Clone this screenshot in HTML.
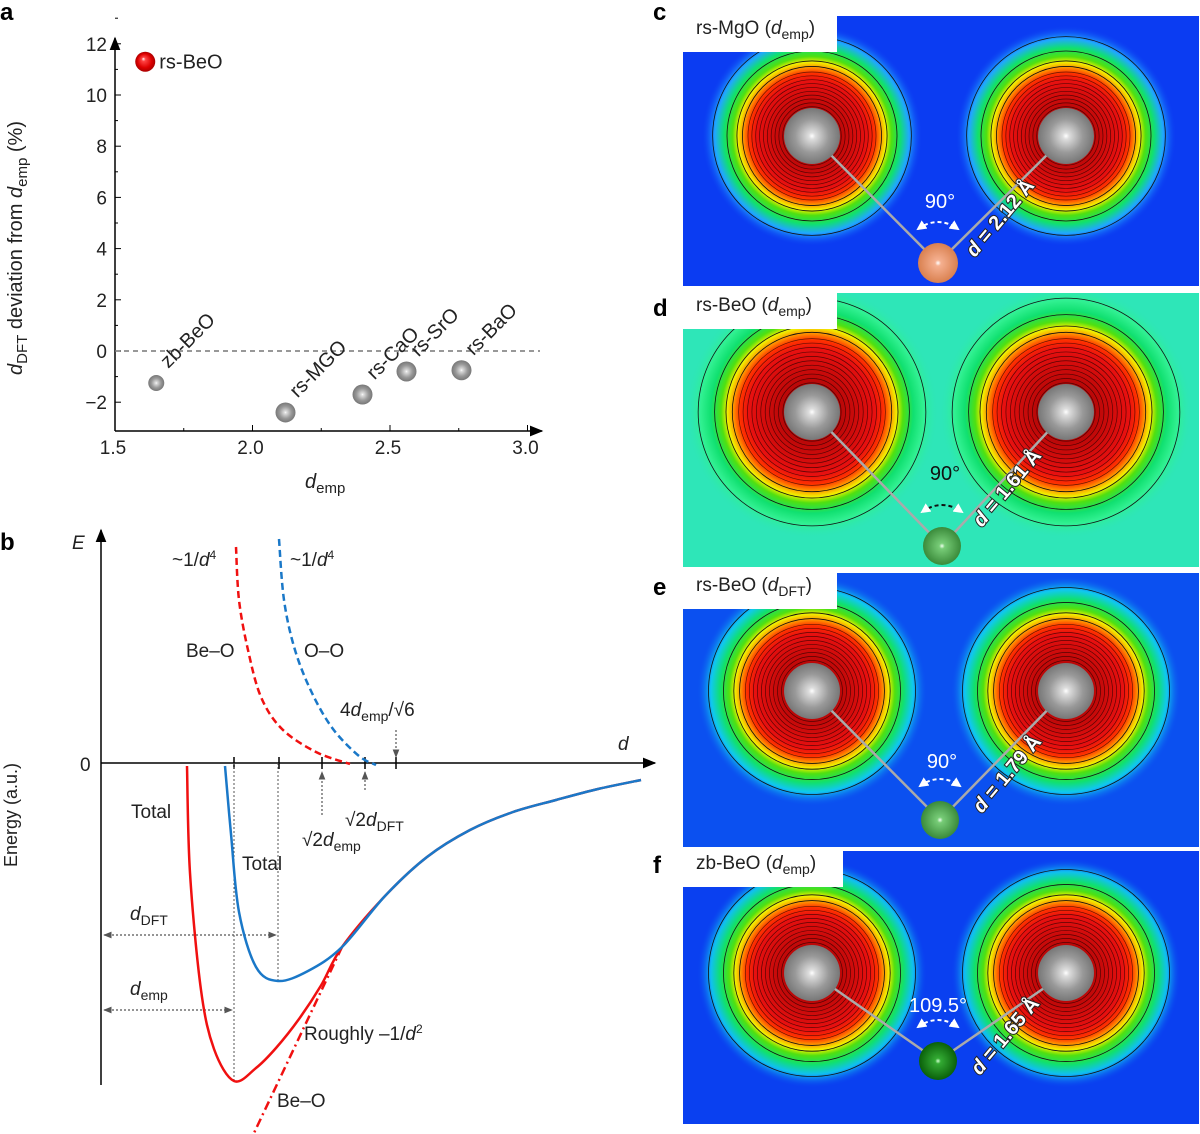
<!DOCTYPE html>
<html><head><meta charset="utf-8">
<style>
html,body{margin:0;padding:0;background:#fff;}
svg{display:block;font-family:"Liberation Sans",sans-serif;}
</style></head>
<body>
<svg id="fig" width="1200" height="1134" viewBox="0 0 1200 1134" xmlns="http://www.w3.org/2000/svg">
<defs>
  <marker id="arr" viewBox="0 0 10 10" refX="9" refY="5" markerWidth="9" markerHeight="9" orient="auto-start-reverse"><path d="M0,1 L10,5 L0,9 Z" fill="#000"/></marker>
  <marker id="garr" viewBox="0 0 10 10" refX="9" refY="5" markerWidth="7" markerHeight="7" orient="auto-start-reverse"><path d="M0,1 L10,5 L0,9 Z" fill="#555"/></marker>
  <marker id="warr" viewBox="0 0 10 10" refX="8" refY="5" markerWidth="5" markerHeight="5" orient="auto-start-reverse"><path d="M0,0 L10,5 L0,10 Z" fill="#fff"/></marker>
  <radialGradient id="gray-ball" cx="0.5" cy="0.5" r="0.5" fx="0.5" fy="0.5"><stop offset="0" stop-color="#fff"/><stop offset="0.12" stop-color="#ddd"/><stop offset="0.6" stop-color="#999"/><stop offset="1" stop-color="#777"/></radialGradient>
  <radialGradient id="red-ball" cx="0.5" cy="0.5" r="0.5" fx="0.4" fy="0.35"><stop offset="0" stop-color="#fff"/><stop offset="0.2" stop-color="#f44"/><stop offset="0.7" stop-color="#d00"/><stop offset="1" stop-color="#a00"/></radialGradient>
  <radialGradient id="orange-ball" cx="0.5" cy="0.5" r="0.5"><stop offset="0" stop-color="#fff"/><stop offset="0.15" stop-color="#f5b090"/><stop offset="1" stop-color="#d9804f"/></radialGradient>
  <radialGradient id="green-ball" cx="0.5" cy="0.5" r="0.5"><stop offset="0" stop-color="#efe"/><stop offset="0.15" stop-color="#7c7"/><stop offset="1" stop-color="#3a8a3a"/></radialGradient>
  <radialGradient id="dgreen-ball" cx="0.5" cy="0.5" r="0.5"><stop offset="0" stop-color="#cfc"/><stop offset="0.15" stop-color="#3a3"/><stop offset="1" stop-color="#0a600a"/></radialGradient>
</defs>
<g id="panelA"></g>
<g id="panelB"></g>
<g id="panelsR"></g>
</svg>
<script>
const NS="http://www.w3.org/2000/svg";
function mk(parent,tag,attrs,text){const e=document.createElementNS(NS,tag);for(const k in attrs)e.setAttribute(k,attrs[k]);if(text!==undefined)e.innerHTML=text;parent.appendChild(e);return e;}

/* ---------- Panel a data ---------- */
const aNames=["rs-BeO","zb-BeO","rs-MGO","rs-CaO","rs-SrO","rs-BaO"];
const aDemp=[1.61,1.65,2.12,2.40,2.56,2.76];
const aDev=[11.3,-1.25,-2.4,-1.7,-0.8,-0.75];
const aXTicks=[1.5,2.0,2.5,3.0];
const aYTicks=[-2,0,2,4,6,8,10,12];

const A=document.getElementById('panelA');
const ax=v=>115+(v-1.5)*275;
const ay=v=>351-v*25.6;
let t=mk(A,'text',{x:0,y:20,'font-size':24,'font-weight':'bold'},'a');

let l=mk(A,'line',{x1:115,y1:431,x2:115,y2:38,stroke:'#000','stroke-width':1.5,'marker-end':'url(#arr)'});

l=mk(A,'line',{x1:115,y1:431,x2:542,y2:431,stroke:'#000','stroke-width':1.5,'marker-end':'url(#arr)'});

aYTicks.forEach(v=>{
  mk(A,'line',{x1:115,y1:ay(v),x2:121,y2:ay(v),stroke:'#000','stroke-width':1});
  mk(A,'line',{x1:115,y1:ay(v+1),x2:118,y2:ay(v+1),stroke:'#000','stroke-width':1});
  const tt=mk(A,'text',{x:107,y:ay(v)+7,'font-size':19,'text-anchor':'end',fill:'#222'},v<0?'\u2212'+(-v):String(v));
  
});
aXTicks.forEach(v=>{
  mk(A,'line',{x1:ax(v),y1:431,x2:ax(v),y2:425,stroke:'#000','stroke-width':1});
  if(v<3)mk(A,'line',{x1:ax(v+0.25),y1:431,x2:ax(v+0.25),y2:428,stroke:'#000','stroke-width':1});
  const tt=mk(A,'text',{x:ax(v)-2,y:454,'font-size':19,'text-anchor':'middle',fill:'#222'},v.toFixed(1));
  
});
l=mk(A,'line',{x1:115,y1:ay(0),x2:540,y2:ay(0),stroke:'#777','stroke-width':1.5,'stroke-dasharray':'5,4'});

t=mk(A,'text',{x:305,y:488,'font-size':20,fill:'#222'},'<tspan font-style="italic">d</tspan><tspan font-size="15" dy="5">emp</tspan>');

t=mk(A,'text',{x:0,y:0,'font-size':20,fill:'#222',transform:'translate(22,375) rotate(-90)'},'<tspan font-style="italic">d</tspan><tspan font-size="15" dy="5">DFT</tspan><tspan dy="-5"> deviation from </tspan><tspan font-style="italic">d</tspan><tspan font-size="15" dy="5">emp</tspan><tspan dy="-5"> (%)</tspan>');

aNames.forEach((n,i)=>{
  const cx=ax(aDemp[i]),cy=ay(aDev[i]);
  const red=i===0;
  const c=mk(A,'circle',{cx:cx,cy:cy,r:red?10:(i==1?8:10),fill:red?'url(#red-ball)':'url(#gray-ball)'});
  
  let lb;
  if(red){lb=mk(A,'text',{x:cx+14,y:cy+7,'font-size':20,fill:'#222'},n);}
  else{lb=mk(A,'text',{x:cx+12,y:cy-14,'font-size':20,fill:'#222',transform:`rotate(-45 ${cx+12} ${cy-14})`},n);}
  
});

/* ---------- Panel b data (schematic units) ---------- */
const redTotD=[1.72,1.78,2.0,2.26,2.66,3.1,3.5,3.96,4.4,4.82,5.68,6.52,7.38,8.24,9.1,9.94,10.8];
const redTotE=[-0.06,-2.2,-4.54,-5.72,-6.36,-6.1,-5.7,-5.12,-4.45,-3.68,-2.66,-1.88,-1.34,-0.98,-0.74,-0.52,-0.34];
const bluTotD=[2.48,2.6,2.76,3.1,3.54,4.14,4.82,5.68,6.52,7.38,8.24,9.1,9.94,10.8];
const bluTotE=[-0.06,-1.42,-2.98,-4.08,-4.36,-4.16,-3.68,-2.66,-1.88,-1.34,-0.98,-0.74,-0.52,-0.34];
const dashDotD=[4.82,3.06];
const dashDotE=[-3.68,-7.4];
const redRepD=[2.7,2.76,2.94,3.2,3.62,4.3,4.98];
const redRepE=[4.32,3.26,2.26,1.32,0.68,0.22,-0.02];
const bluRepD=[3.56,3.66,3.88,4.22,4.64,5.16,5.5];
const bluRepE=[4.48,3.26,2.26,1.4,0.68,0.14,-0.04];
const bTicks=[2.66,3.56,4.42,5.28,5.9];

const B=document.getElementById('panelB');
const bx=d=>101+d*50;
const by=e=>763-e*50;
function smooth(D,E){
  const p=D.map((d,i)=>[bx(d),by(E[i])]);
  if(p.length<3)return `M${p[0]} L${p[1]}`;
  let s=`M${p[0][0]},${p[0][1]}`;
  for(let i=0;i<p.length-1;i++){
    const p0=p[Math.max(0,i-1)],p1=p[i],p2=p[i+1],p3=p[Math.min(p.length-1,i+2)];
    const c1=[p1[0]+(p2[0]-p0[0])/6,p1[1]+(p2[1]-p0[1])/6];
    const c2=[p2[0]-(p3[0]-p1[0])/6,p2[1]-(p3[1]-p1[1])/6];
    s+=` C${c1[0]},${c1[1]} ${c2[0]},${c2[1]} ${p2[0]},${p2[1]}`;
  }
  return s;
}
t=mk(B,'text',{x:0,y:550,'font-size':24,'font-weight':'bold'},'b');

l=mk(B,'line',{x1:101,y1:1085,x2:101,y2:530,stroke:'#000','stroke-width':1.5,'marker-end':'url(#arr)'});

l=mk(B,'line',{x1:101,y1:763,x2:655,y2:763,stroke:'#000','stroke-width':1.5,'marker-end':'url(#arr)'});

bTicks.forEach(d=>{const tk=mk(B,'line',{x1:bx(d),y1:757,x2:bx(d),y2:769,stroke:'#000','stroke-width':1.5});});
mk(B,'line',{x1:bx(redTotD[4]),y1:763,x2:bx(redTotD[4]),y2:by(redTotE[4]),stroke:'#555','stroke-width':1,'stroke-dasharray':'2,2'});
mk(B,'line',{x1:bx(bluTotD[4]),y1:763,x2:bx(bluTotD[4]),y2:by(bluTotE[4]),stroke:'#555','stroke-width':1,'stroke-dasharray':'2,2'});
l=mk(B,'line',{x1:104,y1:935,x2:bx(bluTotD[4])-2,y2:935,stroke:'#555','stroke-width':1.2,'stroke-dasharray':'2,2','marker-start':'url(#garr)','marker-end':'url(#garr)'});

l=mk(B,'line',{x1:104,y1:1010,x2:bx(redTotD[4])-2,y2:1010,stroke:'#555','stroke-width':1.2,'stroke-dasharray':'2,2','marker-start':'url(#garr)','marker-end':'url(#garr)'});

mk(B,'line',{x1:bx(bTicks[2]),y1:815,x2:bx(bTicks[2]),y2:772,stroke:'#555','stroke-width':1.2,'stroke-dasharray':'2,2','marker-end':'url(#garr)'});
mk(B,'line',{x1:bx(bTicks[3]),y1:790,x2:bx(bTicks[3]),y2:772,stroke:'#555','stroke-width':1.2,'stroke-dasharray':'2,2','marker-end':'url(#garr)'});
mk(B,'line',{x1:bx(bTicks[4]),y1:730,x2:bx(bTicks[4]),y2:757,stroke:'#555','stroke-width':1.2,'stroke-dasharray':'2,2','marker-end':'url(#garr)'});
let p=mk(B,'path',{d:smooth(redRepD,redRepE),fill:'none',stroke:'#f01010','stroke-width':2.5,'stroke-dasharray':'7,4'});

p=mk(B,'path',{d:smooth(bluRepD,bluRepE),fill:'none',stroke:'#1a78c8','stroke-width':2.5,'stroke-dasharray':'7,4'});

p=mk(B,'path',{d:smooth(dashDotD,dashDotE),fill:'none',stroke:'#f01010','stroke-width':2.5,'stroke-dasharray':'9,4,2,4'});

p=mk(B,'path',{d:smooth(redTotD,redTotE),fill:'none',stroke:'#f01010','stroke-width':2.5});

p=mk(B,'path',{d:smooth(bluTotD,bluTotE),fill:'none',stroke:'#1a78c8','stroke-width':2.5});

const bl=[
 [72,549,'<tspan font-style="italic">E</tspan>',19,'e-axis-label'],
 [80,771,'0',19,'zero-label'],
 [172,566,'~1/<tspan font-style="italic">d</tspan><tspan font-size="12" dy="-7">4</tspan>',19,'red-power-label'],
 [290,566,'~1/<tspan font-style="italic">d</tspan><tspan font-size="12" dy="-7">4</tspan>',19,'blue-power-label'],
 [186,657,'Be–O',19,'be-o-label'],
 [304,657,'O–O',19,'o-o-label'],
 [340,716,'4<tspan font-style="italic">d</tspan><tspan font-size="14" dy="5">emp</tspan><tspan dy="-5">/√6</tspan>',19,'4demp-label'],
 [618,750,'<tspan font-style="italic">d</tspan>',19,'d-axis-label'],
 [345,826,'√2<tspan font-style="italic">d</tspan><tspan font-size="14" dy="5">DFT</tspan>',19,'sqrt2-ddft-label'],
 [302,846,'√2<tspan font-style="italic">d</tspan><tspan font-size="14" dy="5">emp</tspan>',19,'sqrt2-demp-label'],
 [131,818,'Total',19,'red-total-label'],
 [242,870,'Total',19,'blue-total-label'],
 [130,920,'<tspan font-style="italic">d</tspan><tspan font-size="14" dy="5">DFT</tspan>',19,'ddft-label'],
 [130,995,'<tspan font-style="italic">d</tspan><tspan font-size="14" dy="5">emp</tspan>',19,'demp-label'],
 [304,1040,'Roughly –1/<tspan font-style="italic">d</tspan><tspan font-size="12" dy="-7">2</tspan>',19,'roughly-label'],
 [277,1107,'Be–O',19,'be-o-attraction-label']
];
bl.forEach(b=>{const tt=mk(B,'text',{x:b[0],y:b[1],'font-size':b[3],fill:'#222'},b[2]);});
t=mk(B,'text',{x:0,y:0,'font-size':18,fill:'#222','text-anchor':'middle',transform:'translate(17,815) rotate(-90)'},'Energy (a.u.)');


/* ---------- Panels c-f (density maps) ---------- */
const R=document.getElementById('panelsR');
const panels=[
 {id:'c',top:16,h:270,bg:'#0b3cf2',halo:'#20a8ff',cy:136,R:96,anion:[938,263,20],ball:'url(#orange-ball)',angle:'90°',aPos:[940,208],aCol:'#fff',dist:'d = 2.12 Å',dPos:[1005,222],title:['rs-MgO (','emp',')'],boxW:154,lab:12},
 {id:'d',top:293,h:274,bg:'#2ee6b8',halo:'#30f090',cy:412,R:110,anion:[942,546,19],ball:'url(#green-ball)',angle:'90°',aPos:[945,480],aCol:'#111',dist:'d = 1.61 Å',dPos:[1012,492],title:['rs-BeO (','emp',')'],boxW:154,lab:308},
 {id:'e',top:573,h:274,bg:'#0b50f0',halo:'#10c8f0',cy:691,R:100,anion:[940,820,19],ball:'url(#green-ball)',angle:'90°',aPos:[942,768],aCol:'#fff',dist:'d = 1.79 Å',dPos:[1012,778],title:['rs-BeO (','DFT',')'],boxW:154,lab:587},
 {id:'f',top:851,h:273,bg:'#0a40f0',halo:'#10c0f0',cy:973,R:100,anion:[938,1061,19],ball:'url(#dgreen-ball)',angle:'109.5°',aPos:[938,1012],aCol:'#fff',dist:'d = 1.65 Å',dPos:[1010,1040],title:['zb-BeO (','emp',')'],boxW:160,lab:865}
];
const atomX=[812,1066];
const defs=document.querySelector('defs');
panels.forEach(P=>{
  const g=mk(R,'g',{});
  
  const cp=mk(defs,'clipPath',{id:'clip'+P.id});mk(cp,'rect',{x:683,y:P.top,width:516,height:P.h});
  const gr=mk(defs,'radialGradient',{id:'halo'+P.id,cx:0.5,cy:0.5,r:0.5});
  [[0,'#900000',1],[0.5,'#e81010',1],[0.57,'#ff3000',1],[0.62,'#ff9000',1],[0.67,'#f0f000',1],[0.72,'#50e010',1],[0.8,'#10e070',1],[0.88,P.halo,1],[1,P.bg,0]].forEach(s=>mk(gr,'stop',{offset:s[0],'stop-color':s[1],'stop-opacity':s[2]}));
  const inner=mk(g,'g',{'clip-path':`url(#clip${P.id})`});
  mk(inner,'rect',{x:683,y:P.top,width:516,height:P.h,fill:P.bg});
  atomX.forEach((x,k)=>{
    const h=mk(inner,'circle',{cx:x,cy:P.cy,r:P.R*1.15,fill:`url(#halo${P.id})`});
    
    for(let f=0.16;f<=0.6;f+=0.035)mk(inner,'circle',{cx:x,cy:P.cy,r:P.R*1.15*f,fill:'none',stroke:'#200','stroke-width':0.7,'stroke-opacity':0.7});
    [0.63,0.68,0.77,0.9].forEach(f=>mk(inner,'circle',{cx:x,cy:P.cy,r:P.R*1.15*f,fill:'none',stroke:'#111','stroke-width':0.8}));
  });
  const [ax2,ay2,ar]=P.anion;
  atomX.forEach(x=>{const b=mk(inner,'line',{x1:x,y1:P.cy,x2:ax2,y2:ay2,stroke:'#aaa','stroke-width':2.5});});
  atomX.forEach(x=>{const a=mk(inner,'circle',{cx:x,cy:P.cy,r:28,fill:'url(#gray-ball)'});});
  const an=mk(inner,'circle',{cx:ax2,cy:ay2,r:ar,fill:P.ball});
  
  const arc=mk(inner,'path',{d:`M${ax2-20},${ay2-34} Q${ax2},${ay2-48} ${ax2+20},${ay2-34}`,fill:'none',stroke:P.aCol,'stroke-width':2,'stroke-dasharray':'4,3','marker-start':'url(#warr)','marker-end':'url(#warr)'});
  
  const at=mk(inner,'text',{x:P.aPos[0],y:P.aPos[1],'font-size':20,fill:P.aCol,'text-anchor':'middle'},P.angle);
  
  const dt=mk(inner,'text',{x:P.dPos[0],y:P.dPos[1],'font-size':20,'font-weight':'bold',fill:'#fff',stroke:'#222','stroke-width':2,'paint-order':'stroke','text-anchor':'middle',transform:`rotate(-50 ${P.dPos[0]} ${P.dPos[1]})`},'<tspan font-style="italic">d</tspan>'+P.dist.slice(1));
  
  const bx2=mk(g,'rect',{x:683,y:P.top-4,width:P.boxW,height:40,fill:'#fff'});
  
  const tt=mk(g,'text',{x:696,y:P.top+18,'font-size':19,fill:'#222'},P.title[0]+'<tspan font-style="italic">d</tspan><tspan font-size="14" dy="5">'+P.title[1]+'</tspan><tspan dy="-5">'+P.title[2]+'</tspan>');
  
  const pl=mk(R,'text',{x:653,y:P.lab+8,'font-size':24,'font-weight':'bold'},P.id);
  
});
</script>
</body></html>
